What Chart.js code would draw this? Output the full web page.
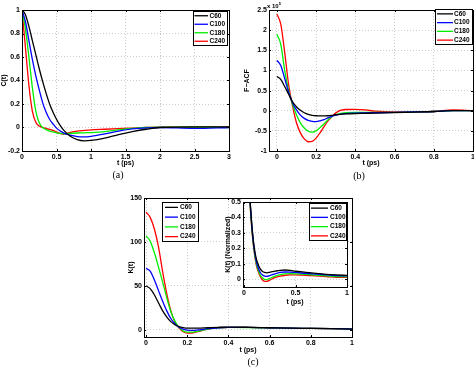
<!DOCTYPE html>
<html>
<head>
<meta charset="utf-8">
<script src="https://cdn.jsdelivr.net/npm/chart.js@4.4.0/dist/chart.umd.min.js"></script>
<style>
  body { margin: 0; background: #fff; }
  #wrap { position: relative; width: 474px; height: 369px; overflow: hidden; }
  canvas { position: absolute; }
  .cap { position: absolute; font: 10px "Liberation Serif", "DejaVu Serif", serif; transform: translate(-50%, -50%); color: #000; }
  .exp { position: absolute; font: bold 6px "Liberation Sans", Arial, sans-serif; color: #000; }
  .exp sup { font-size: 4px; }
</style>
</head>
<body>
<div id="wrap">
  <canvas id="chartA" width="234" height="185" style="left:0;top:0"></canvas>
  <canvas id="chartB" width="240" height="185" style="left:234px;top:0"></canvas>
  <canvas id="chartC" width="250" height="184" style="left:110px;top:185px"></canvas>
  <canvas id="chartIn" width="132" height="114" style="left:220px;top:196px"></canvas>
  <div class="cap" style="left:118px;top:174px">(a)</div>
  <div class="cap" style="left:359px;top:175px">(b)</div>
  <div class="cap" style="left:253px;top:361px">(c)</div>
  <div class="exp" style="left:267px;top:1px">x 10<sup>5</sup></div>
</div>
<script>
const labels = ['C60', 'C100', 'C180', 'C240'];
const colors = ['#000000', '#0000ff', '#00ee00', '#ff0000'];

// (a) C(t)
const tA = [0, 0.05, 0.1, 0.15, 0.2, 0.25, 0.3, 0.35, 0.4, 0.45, 0.5, 0.55, 0.6, 0.7, 0.8, 0.9, 1.0, 1.2, 1.4, 1.6, 1.8, 2.0, 2.5, 3.0];
const cC60  = [1, 0.96, 0.86, 0.74, 0.62, 0.5, 0.39, 0.29, 0.2, 0.13, 0.07, 0.02, -0.02, -0.075, -0.103, -0.113, -0.11, -0.09, -0.06, -0.035, -0.015, 0, 0.005, 0.005];
const cC100 = [1, 0.9, 0.74, 0.58, 0.44, 0.32, 0.21, 0.13, 0.07, 0.03, -0.005, -0.028, -0.045, -0.065, -0.077, -0.08, -0.075, -0.055, -0.03, -0.012, -0.003, 0, -0.008, 0];
const cC180 = [1, 0.84, 0.6, 0.34, 0.14, 0.04, 0.0, -0.018, -0.03, -0.038, -0.045, -0.05, -0.053, -0.05, -0.047, -0.045, -0.043, -0.035, -0.02, -0.008, 0, 0.004, 0.003, 0];
const cC240 = [1, 0.68, 0.36, 0.14, 0.045, 0.012, 0.0, -0.008, -0.015, -0.025, -0.038, -0.05, -0.057, -0.042, -0.031, -0.025, -0.02, -0.015, -0.01, -0.005, 0, 0.003, 0.003, 0.003];
const xTicksA = [0, 0.5, 1, 1.5, 2, 2.5, 3];
const yTicksA = [-0.2, 0, 0.2, 0.4, 0.6, 0.8, 1];

// (b) F-ACF (x 10^5)
const tB = [0, 0.02, 0.04, 0.06, 0.08, 0.1, 0.12, 0.14, 0.16, 0.18, 0.2, 0.22, 0.24, 0.26, 0.28, 0.3, 0.32, 0.35, 0.4, 0.45, 0.5, 0.6, 0.7, 0.8, 0.9, 1.0];
const fC60  = [0.85, 0.78, 0.6, 0.41, 0.22, 0.1, 0.01, -0.05, -0.09, -0.113, -0.125, -0.13, -0.13, -0.125, -0.115, -0.1, -0.09, -0.08, -0.07, -0.065, -0.06, -0.045, -0.035, -0.02, 0, 0];
const fC100 = [1.25, 1.12, 0.8, 0.46, 0.2, 0.02, -0.11, -0.19, -0.24, -0.263, -0.27, -0.252, -0.22, -0.18, -0.14, -0.11, -0.09, -0.07, -0.06, -0.055, -0.05, -0.04, -0.03, -0.02, 0, 0];
const fC180 = [1.9, 1.65, 1.0, 0.5, 0.16, -0.1, -0.3, -0.43, -0.51, -0.53, -0.5, -0.42, -0.33, -0.23, -0.15, -0.1, -0.07, -0.05, -0.04, -0.04, -0.04, -0.04, -0.03, -0.02, 0, 0];
const fC240 = [2.4, 2.15, 1.45, 0.65, 0.12, -0.3, -0.55, -0.7, -0.77, -0.76, -0.68, -0.55, -0.4, -0.26, -0.15, -0.06, 0.0, 0.03, 0.035, 0.02, -0.01, -0.03, -0.03, -0.02, 0.02, 0];
const xTicksB = [0, 0.2, 0.4, 0.6, 0.8, 1];
const yTicksB = [-1, -0.5, 0, 0.5, 1, 1.5, 2, 2.5];

// (c) K(t)
const tC = [0, 0.02, 0.04, 0.06, 0.08, 0.1, 0.12, 0.14, 0.16, 0.18, 0.2, 0.22, 0.25, 0.3, 0.35, 0.4, 0.5, 0.6, 0.7, 0.8, 0.9, 1.0];
const kC60  = [50, 47, 40, 31, 22, 15, 9.5, 6, 3.8, 2.6, 2, 2, 2, 2.5, 3, 3.3, 3, 2.5, 2, 1.8, 1.5, 1];
const kC100 = [70, 67, 57, 45, 33, 22, 13, 7, 3, 1, -0.3, -0.5, 0, 1.5, 2.5, 3, 3, 2.5, 2, 1.8, 1.5, 1];
const kC180 = [107, 101, 88, 72, 55, 37, 21, 10, 3, -1, -2.5, -2.5, -1.5, 1, 2.5, 3, 2.8, 2.3, 2, 1.8, 1.5, 1];
const kC240 = [134, 128, 115, 95, 67, 42, 22, 9, 2, -2, -3.5, -3.5, -2, 1, 2.5, 3, 3, 2.5, 2, 1.8, 1.5, 1];
const xTicksC = [0, 0.2, 0.4, 0.6, 0.8, 1];
const yTicksC = [0, 50, 100, 150];

// (c) inset, K(t) normalized
const tN = [0, 0.02, 0.04, 0.06, 0.08, 0.1, 0.12, 0.14, 0.16, 0.18, 0.2, 0.22, 0.25, 0.3, 0.35, 0.4, 0.45, 0.5, 0.6, 0.7, 0.8, 0.9, 1.0];
const nC60  = [1, 0.9, 0.7, 0.5, 0.32, 0.2, 0.13, 0.09, 0.065, 0.05, 0.044, 0.042, 0.045, 0.052, 0.058, 0.06, 0.057, 0.052, 0.045, 0.038, 0.032, 0.028, 0.025];
const nC100 = [1, 0.9, 0.7, 0.49, 0.31, 0.19, 0.115, 0.07, 0.042, 0.027, 0.02, 0.019, 0.024, 0.035, 0.044, 0.047, 0.046, 0.044, 0.038, 0.033, 0.028, 0.024, 0.022];
const nC180 = [1, 0.9, 0.7, 0.48, 0.3, 0.18, 0.1, 0.055, 0.025, 0.008, 0.0, -0.002, 0.006, 0.02, 0.03, 0.035, 0.036, 0.035, 0.032, 0.027, 0.022, 0.018, 0.016];
const nC240 = [1, 0.9, 0.7, 0.47, 0.29, 0.17, 0.09, 0.045, 0.015, -0.005, -0.013, -0.014, -0.005, 0.01, 0.02, 0.026, 0.028, 0.028, 0.026, 0.022, 0.018, 0.013, 0.012];
const xTicksN = [0, 0.5, 1];
const yTicksN = [0, 0.1, 0.2, 0.3, 0.4, 0.5];

const FONT = '"Liberation Sans", Arial, Helvetica, sans-serif';

// draws the axes box, inward ticks and a MATLAB-style legend box
const framePlugin = {
  id: 'frame',
  beforeDraw(chart, args, opts) {
    if (!opts.fill) return;
    const a = chart.chartArea;
    chart.ctx.fillStyle = '#fff';
    chart.ctx.fillRect(a.left, a.top, a.right - a.left, a.bottom - a.top);
  },
  afterDraw(chart, args, opts) {
    const ctx = chart.ctx;
    const a = chart.chartArea;
    ctx.save();
    ctx.strokeStyle = '#000';
    ctx.lineWidth = 1;
    ctx.strokeRect(Math.round(a.left) + 0.5, Math.round(a.top) + 0.5, Math.round(a.right - a.left), Math.round(a.bottom - a.top));
    // inward ticks
    ctx.beginPath();
    chart.scales.x.ticks.forEach(t => {
      const px = Math.round(chart.scales.x.getPixelForValue(t.value)) + 0.5;
      ctx.moveTo(px, a.bottom); ctx.lineTo(px, a.bottom - 2);
      ctx.moveTo(px, a.top); ctx.lineTo(px, a.top + 2);
    });
    chart.scales.y.ticks.forEach(t => {
      const py = Math.round(chart.scales.y.getPixelForValue(t.value)) + 0.5;
      ctx.moveTo(a.left, py); ctx.lineTo(a.left + 2, py);
      ctx.moveTo(a.right, py); ctx.lineTo(a.right - 2, py);
    });
    ctx.stroke();

    const b = opts.box;
    ctx.fillStyle = '#fff';
    ctx.fillRect(b.x, b.y, b.w, b.h);
    ctx.strokeRect(b.x + 0.5, b.y + 0.5, b.w, b.h);
    const rowH = b.h / chart.data.datasets.length;
    ctx.font = 'bold 6.5px ' + FONT;
    ctx.textBaseline = 'middle';
    chart.data.datasets.forEach((ds, i) => {
      const y = b.y + rowH * (i + 0.5) + 0.5;
      ctx.strokeStyle = ds.borderColor;
      ctx.lineWidth = 1.3;
      ctx.beginPath();
      ctx.moveTo(b.x + b.l0, y);
      ctx.lineTo(b.x + b.l1, y);
      ctx.stroke();
      ctx.fillStyle = '#000';
      ctx.fillText(ds.label, b.x + b.tx, y);
    });
    ctx.restore();
  }
};

function makeScale(range, ticks, title, isX, geo) {
  return {
    type: 'linear',
    min: range[0],
    max: range[1],
    afterBuildTicks: s => { s.ticks = ticks.map(v => ({ value: v })); },
    afterFit: s => {
      if (isX) s.height = geo.xH; else s.width = geo.yW;
      s.paddingLeft = s.paddingRight = s.paddingTop = s.paddingBottom = 0;
    },
    grid: { color: 'rgba(0,0,0,0.25)', lineWidth: 0.8, drawTicks: false },
    border: { display: false, dash: [1, 2] },
    ticks: {
      color: '#000',
      padding: 2,
      autoSkip: false,
      maxRotation: 0,
      font: { family: FONT, size: 7, weight: 'bold' },
      callback: v => String(v)
    },
    title: { display: true, text: title, color: '#000', padding: 0, font: { family: FONT, size: 7, weight: 'bold' } }
  };
}

function makePanel(id, xs, series, cfg) {
  const geo = cfg.geo;
  new Chart(document.getElementById(id), {
    type: 'line',
    data: {
      datasets: series.map((ys, i) => ({
        label: labels[i],
        data: xs.map((x, j) => ({ x: x, y: ys[j] })),
        borderColor: colors[i],
        borderWidth: 1.3,
        pointRadius: 0,
        cubicInterpolationMode: 'monotone',
        fill: false
      }))
    },
    options: {
      responsive: false,
      animation: false,
      layout: { padding: { left: geo.pl, top: geo.pt, right: geo.pr, bottom: geo.pb } },
      scales: {
        x: makeScale(cfg.xr, cfg.xt, 't (ps)', true, geo),
        y: makeScale(cfg.yr, cfg.yt, cfg.yTitle, false, geo)
      },
      plugins: {
        legend: { display: false },
        tooltip: { enabled: false },
        frame: { box: cfg.legend, fill: !!cfg.fill }
      }
    },
    plugins: [framePlugin]
  });
}

makePanel('chartA', tA, [cC60, cC100, cC180, cC240], {
  xr: [0, 3], yr: [-0.2, 1], xt: xTicksA, yt: yTicksA, yTitle: 'C(t)',
  geo: { pl: 0, pt: 10, pr: 5, pb: 18, yW: 22, xH: 16 },
  legend: { x: 193, y: 11, w: 34, h: 34, l0: 1.5, l1: 15, tx: 16.5 }
});

makePanel('chartB', tB, [fC60, fC100, fC180, fC240], {
  xr: [-0.04, 1], yr: [-1, 2.5], xt: xTicksB, yt: yTicksB, yTitle: 'F\u2212ACF',
  geo: { pl: 9, pt: 10, pr: 1, pb: 18, yW: 26, xH: 16 },
  legend: { x: 201, y: 9, w: 37, h: 35, l0: 2, l1: 18, tx: 19 }
});

makePanel('chartC', tC, [kC60, kC100, kC180, kC240], {
  xr: [-0.01, 1], yr: [-8, 150], xt: xTicksC, yt: yTicksC, yTitle: 'K(t)',
  geo: { pl: 17, pt: 13, pr: 8, pb: 15, yW: 17, xH: 17 },
  legend: { x: 52, y: 17, w: 36, h: 39, l0: 3, l1: 16, tx: 18 }
});

makePanel('chartIn', tN, [nC60, nC100, nC180, nC240], {
  xr: [-0.01, 1], yr: [-0.05, 0.5], xt: xTicksN, yt: yTicksN, yTitle: 'K(t) (Normalized)',
  geo: { pl: 4, pt: 6, pr: 5, pb: 4, yW: 19, xH: 19 },
  legend: { x: 89, y: 7, w: 37, h: 37, l0: 2, l1: 19, tx: 21 },
  fill: true
});
</script>
</body>
</html>
